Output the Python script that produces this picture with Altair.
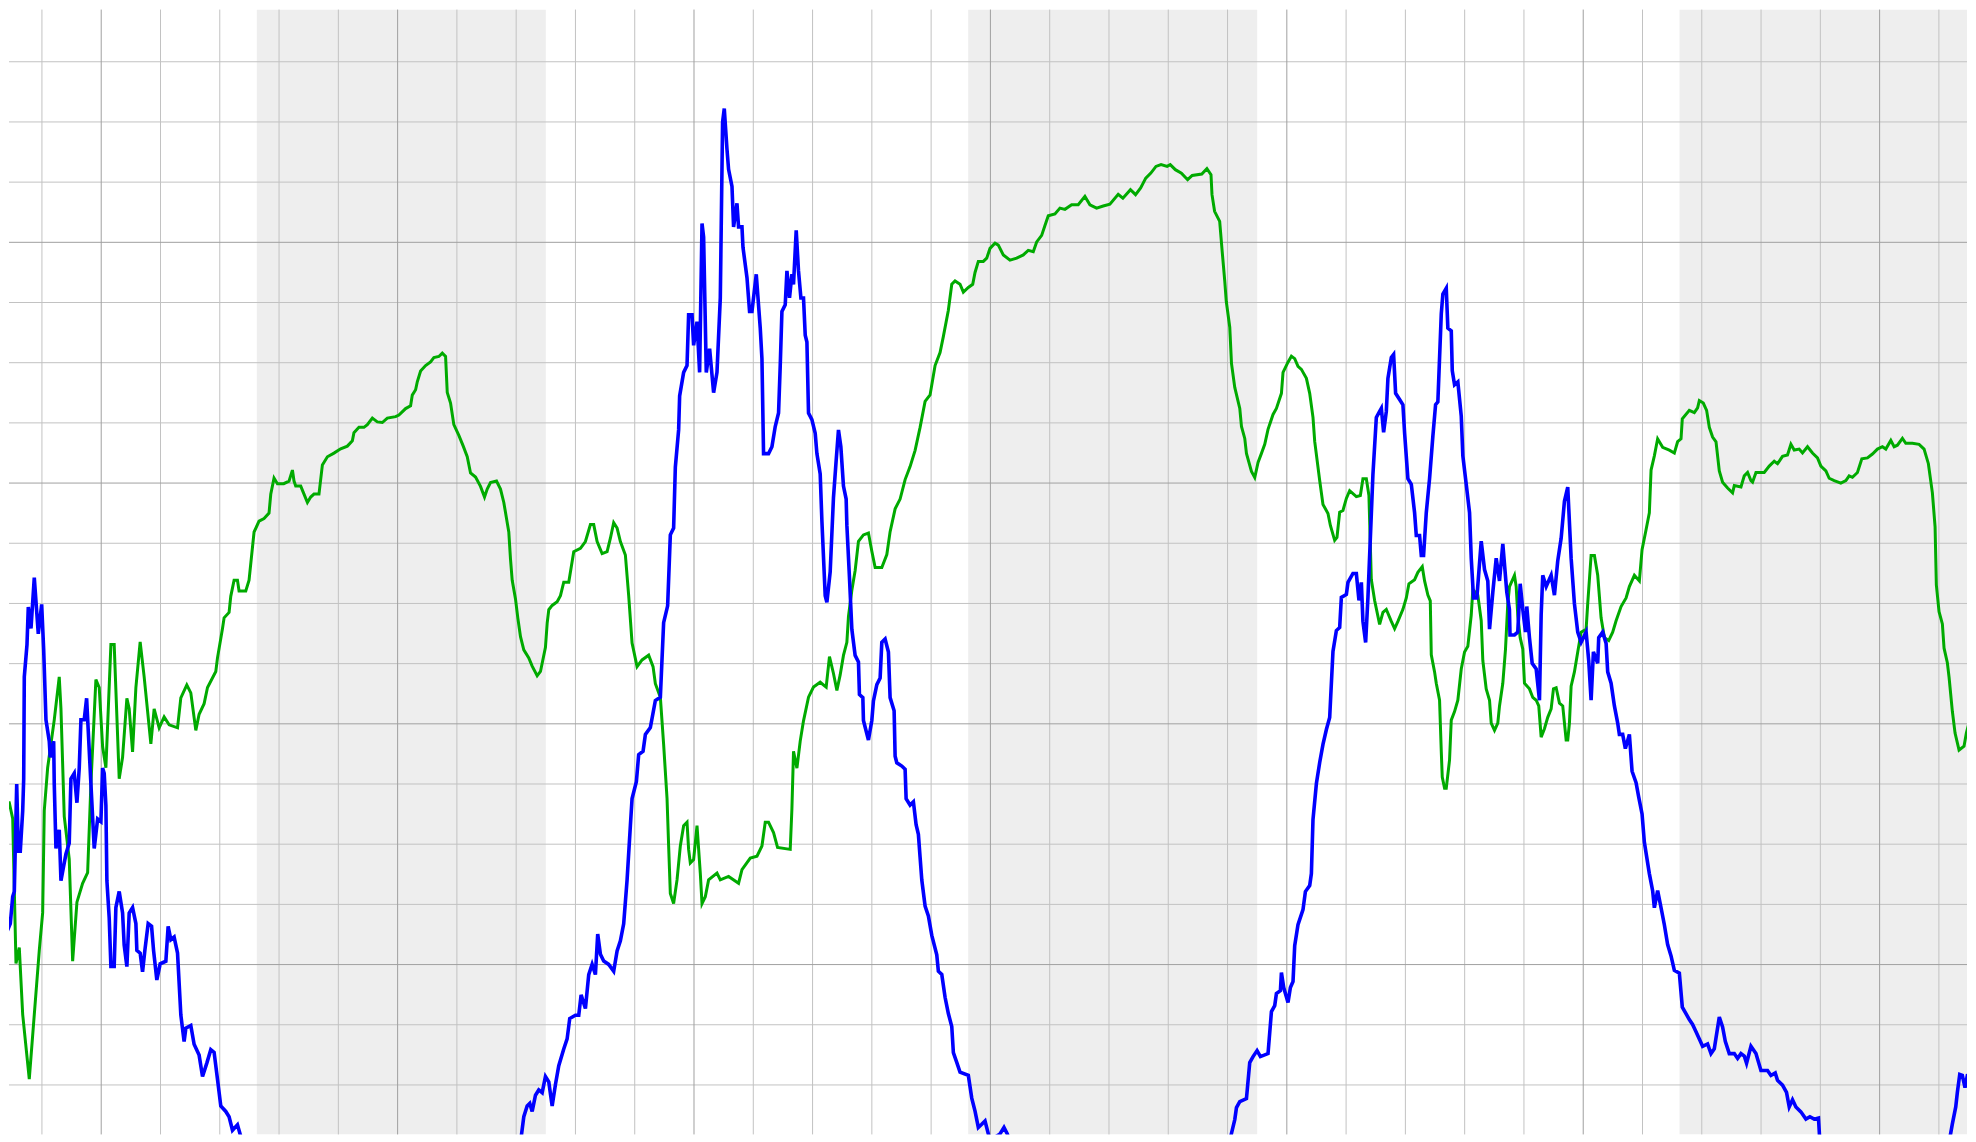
import altair as alt
import pandas as pd

# ---- data (hours, value) ----
GREEN_SERIES = [
(-3.323,3.061),(-3.246,2.689),(-3.101,2.689),(-2.986,2.423),(-2.875,0.017),(-2.764,0.282),(-2.649,-0.830),(-2.427,-1.904),
(-2.258,-0.830),(-2.090,0.232),(-1.975,0.863),(-1.921,2.556),(-1.807,3.270),(-1.584,4.066),(-1.416,4.780),(-1.358,4.249),
(-1.247,2.463),(-1.079,1.751),(-0.964,0.056),(-0.819,1.037),(-0.627,1.349),(-0.458,1.527),(-0.347,3.004),(-0.179,4.737),
(-0.067,4.603),(0.047,3.622),(0.158,3.270),(0.327,5.316),(0.438,5.316),(0.607,3.087),(0.721,3.444),(0.866,4.425),
(0.944,4.249),(1.058,3.535),(1.170,4.603),(1.314,5.361),(1.449,4.780),(1.675,3.668),(1.786,4.249),(1.955,3.934),
(2.123,4.116),(2.292,3.984),(2.575,3.934),(2.686,4.432),(2.888,4.647),(3.023,4.515),(3.192,3.891),(3.303,4.158),
(3.472,4.335),(3.586,4.603),(3.866,4.870),(3.923,5.096),(4.092,5.584),(4.146,5.761),(4.314,5.851),(4.371,6.118),
(4.483,6.385),(4.597,6.385),(4.651,6.208),(4.877,6.208),(4.988,6.385),(5.157,7.187),(5.325,7.369),(5.494,7.411),
(5.662,7.502),(5.720,7.813),(5.831,8.083),(5.945,7.990),(6.158,7.990),(6.336,8.033),(6.451,8.216),(6.505,8.033),
(6.562,7.950),(6.731,7.950),(6.842,7.817),(6.957,7.678),(7.068,7.768),(7.179,7.817),(7.347,7.817),(7.462,8.302),
(7.631,8.437),(7.853,8.498),(8.079,8.569),(8.305,8.614),(8.473,8.704),(8.527,8.837),(8.696,8.926),(8.864,8.926),
(8.979,8.971),(9.147,9.079),(9.316,9.016),(9.484,9.006),(9.653,9.079),(9.933,9.104),(10.044,9.130),(10.270,9.238),
(10.438,9.283),(10.495,9.461),(10.607,9.550),(10.664,9.683),(10.775,9.862),(10.944,9.952),(11.112,10.014),(11.223,10.085),
(11.392,10.103),(11.507,10.158),(11.618,10.103),(11.675,9.505),(11.786,9.328),(11.897,8.971),(12.066,8.792),(12.214,8.614),
(12.349,8.437),(12.460,8.168),(12.629,8.100),(12.797,7.945),(12.932,7.768),(13.023,7.900),(13.134,8.008),(13.337,8.033),
(13.471,7.900),(13.583,7.678),(13.751,7.187),(13.808,6.742),(13.866,6.385),(13.977,6.075),(14.055,5.761),(14.146,5.449),
(14.257,5.228),(14.425,5.096),(14.540,4.959),(14.708,4.798),(14.820,4.870),(14.988,5.271),(15.046,5.673),(15.100,5.896),
(15.214,5.967),(15.383,6.028),(15.494,6.130),(15.605,6.354),(15.774,6.354),(15.942,6.860),(16.168,6.916),(16.336,7.029),
(16.505,7.310),(16.616,7.310),(16.731,7.029),(16.899,6.827),(17.068,6.860),(17.179,7.084),(17.290,7.343),(17.405,7.253),
(17.516,7.029),(17.684,6.805),(17.796,6.130),(17.910,5.343),(18.079,4.950),(18.247,5.062),(18.470,5.140),(18.618,4.950),
(18.696,4.667),(18.864,4.443),(18.975,3.657),(19.090,2.757),(19.144,1.970),(19.201,1.183),(19.312,1.014),(19.427,1.407),
(19.538,1.970),(19.650,2.307),(19.764,2.364),(19.818,1.914),(19.875,1.688),(19.987,1.744),(20.101,2.307),(20.212,1.520),
(20.270,1.014),(20.381,1.127),(20.492,1.407),(20.775,1.520),(20.887,1.407),(21.166,1.464),(21.503,1.351),(21.618,1.577),
(21.898,1.768),(22.124,1.801),(22.292,1.970),(22.403,2.364),(22.515,2.364),(22.683,2.194),(22.818,1.947),(23.246,1.914),
(23.303,2.589),(23.357,3.544),(23.472,3.263),(23.583,3.713),(23.694,4.050),(23.863,4.443),(24.031,4.611),(24.257,4.691),
(24.459,4.611),(24.570,5.117),(24.705,4.837),(24.820,4.554),(24.931,4.813),(25.042,5.137),(25.157,5.354),(25.211,5.786),
(25.325,6.219),(25.436,6.545),(25.548,7.031),(25.716,7.139),(25.885,7.170),(25.999,6.868),(26.111,6.598),(26.336,6.598),
(26.505,6.813),(26.616,7.193),(26.785,7.572),(26.953,7.734),(27.122,8.058),(27.290,8.274),(27.459,8.544),(27.627,8.925),
(27.796,9.356),(27.964,9.464),(28.133,9.952),(28.301,10.168),(28.413,10.438),(28.581,10.871),(28.696,11.303),(28.807,11.358),
(28.975,11.303),(29.087,11.173),(29.255,11.250),(29.403,11.303),(29.481,11.499),(29.592,11.683),(29.761,11.683),(29.875,11.736),
(29.986,11.899),(30.155,11.985),(30.266,11.954),(30.435,11.791),(30.661,11.705),(30.886,11.736),(31.109,11.791),(31.277,11.867),
(31.446,11.844),(31.561,12.007),(31.729,12.115),(31.840,12.278),(31.952,12.440),(32.177,12.472),(32.346,12.569),(32.514,12.548),
(32.740,12.624),(32.963,12.624),(33.188,12.763),(33.357,12.624),(33.583,12.569),(33.805,12.603),(34.031,12.634),(34.311,12.797),
(34.469,12.732),(34.725,12.875),(34.897,12.792),(35.069,12.902),(35.241,13.067),(35.413,13.150),(35.585,13.261),(35.757,13.290),
(35.962,13.261),(36.067,13.290),(36.239,13.207),(36.444,13.150),(36.653,13.041),(36.808,13.112),(37.132,13.134),(37.304,13.223),
(37.442,13.124),(37.476,12.792),(37.563,12.515),(37.735,12.349),(37.819,11.851),(37.907,11.353),(37.957,11.021),(38.075,10.589),
(38.133,9.989),(38.244,9.590),(38.413,9.240),(38.470,8.941),(38.581,8.742),(38.638,8.493),(38.807,8.193),(38.918,8.093),
(39.029,8.344),(39.144,8.493),(39.255,8.643),(39.366,8.892),(39.535,9.140),(39.649,9.240),(39.818,9.491),(39.872,9.839),
(40.040,10.008),(40.155,10.108),(40.266,10.068),(40.377,9.939),(40.492,9.889),(40.661,9.740),(40.772,9.491),(40.883,9.091),
(40.941,8.692),(41.109,8.043),(41.220,7.645),(41.389,7.496),(41.470,7.296),(41.614,7.048),(41.692,7.097),(41.783,7.515),
(41.894,7.545),(42.009,7.745),(42.120,7.874),(42.346,7.774),(42.481,7.794),(42.568,8.073),(42.683,8.073),(42.770,7.794),
(42.851,6.399),(42.963,6.050),(43.131,5.652),(43.243,5.851),(43.357,5.901),(43.526,5.701),(43.637,5.580),(43.748,5.701),
(43.917,5.902),(44.031,6.091),(44.119,6.327),(44.311,6.394),(44.422,6.516),(44.570,6.611),(44.648,6.374),(44.759,6.138),
(44.840,6.043),(44.874,5.147),(44.985,4.863),(45.042,4.674),(45.153,4.392),(45.211,3.542),(45.244,3.117),(45.322,2.928),
(45.379,2.928),(45.490,3.399),(45.548,4.061),(45.659,4.203),(45.770,4.392),(45.885,4.911),(45.996,5.194),(46.107,5.288),
(46.222,5.808),(46.276,6.232),(46.444,6.138),(46.559,5.713),(46.613,5.052),(46.727,4.581),(46.839,4.392),(46.896,4.013),
(47.007,3.891),(47.118,4.013),(47.176,4.297),(47.287,4.674),(47.378,5.242),(47.455,5.997),(47.513,6.281),(47.681,6.468),
(47.738,6.281),(47.792,5.808),(47.873,5.431),(47.961,5.242),(48.018,4.674),(48.186,4.581),(48.298,4.438),(48.413,4.392),
(48.500,4.297),(48.581,3.778),(48.692,3.919),(48.803,4.108),(48.918,4.249),(48.996,4.581),(49.087,4.599),(49.198,4.344),
(49.309,4.297),(49.424,3.730),(49.478,3.730),(49.535,4.013),(49.592,4.627),(49.703,4.863),(49.815,5.194),(49.929,5.524),
(50.098,5.572),(50.152,5.997),(50.266,6.798),(50.378,6.798),(50.489,6.468),(50.603,5.761),(50.715,5.431),(50.859,5.383),
(50.994,5.524),(51.109,5.713),(51.277,5.949),(51.446,6.091),(51.557,6.281),(51.726,6.468),(51.894,6.374),(51.985,6.893),
(52.120,7.224),(52.231,7.507),(52.289,8.216),(52.400,8.452),(52.511,8.735),(52.680,8.593),(52.905,8.546),(53.074,8.498),
(53.185,8.687),(53.300,8.735),(53.343,9.066),(53.579,9.208),(53.748,9.169),(53.859,9.250),(53.917,9.371),(54.051,9.330),
(54.163,9.208),(54.254,8.926),(54.365,8.765),(54.480,8.686),(54.591,8.201),(54.702,8.015),(54.871,7.919),(55.039,7.838),
(55.097,7.959),(55.322,7.935),(55.433,8.120),(55.545,8.176),(55.659,8.040),(55.713,8.015),(55.828,8.176),(56.107,8.176),
(56.276,8.282),(56.444,8.362),(56.555,8.322),(56.724,8.443),(56.892,8.467),(57.007,8.644),(57.118,8.548),(57.287,8.565),
(57.398,8.500),(57.567,8.604),(57.735,8.500),(57.904,8.418),(58.018,8.282),(58.187,8.201),(58.298,8.080),(58.467,8.040),
(58.692,7.999),(58.861,8.040),(58.972,8.120),(59.083,8.096),(59.252,8.176),(59.400,8.402),(59.589,8.418),(59.757,8.483),
(59.926,8.565),(60.094,8.604),(60.209,8.565),(60.378,8.709),(60.489,8.604),(60.600,8.629),(60.769,8.742),(60.883,8.661),
(61.106,8.661),(61.332,8.644),(61.500,8.565),(61.645,8.322),(61.780,7.838),(61.871,7.273),(61.914,6.306),(62.005,5.862),
(62.117,5.660),(62.174,5.257),(62.285,5.014),(62.343,4.774),(62.454,4.208),(62.545,3.846),(62.680,3.564),(62.848,3.627),
(62.926,3.846),(63.074,4.128),(63.185,4.193),
]

BLUE_SERIES = [
(-3.323,1.527),(-3.269,1.394),(-3.212,1.349),(-3.178,0.548),(-3.067,0.681),(-2.986,1.129),(-2.932,1.215),(-2.851,2.998),
(-2.797,1.884),(-2.730,1.884),(-2.649,2.553),(-2.615,3.087),(-2.595,4.780),(-2.504,5.316),(-2.460,5.942),(-2.369,5.584),
(-2.258,6.430),(-2.123,5.494),(-2.009,5.985),(-1.941,5.228),(-1.864,4.068),(-1.753,3.711),(-1.719,3.444),(-1.604,3.711),
(-1.584,2.998),(-1.527,1.929),(-1.416,2.241),(-1.358,1.394),(-1.190,1.839),(-1.079,2.018),(-1.021,3.087),(-0.910,3.177),
(-0.819,2.689),(-0.741,3.266),(-0.684,4.068),(-0.573,4.068),(-0.492,4.425),(-0.438,3.891),(-0.347,2.998),(-0.236,1.929),
(-0.121,2.418),(-0.010,2.374),(0.047,3.266),(0.101,3.177),(0.158,2.642),(0.192,1.394),(0.270,0.770),(0.327,-0.033),
(0.438,-0.033),(0.495,0.948),(0.607,1.215),(0.721,0.858),(0.775,0.324),(0.866,-0.033),(0.944,0.858),(1.058,0.948),
(1.170,0.681),(1.203,0.236),(1.314,0.191),(1.395,-0.121),(1.473,0.236),(1.584,0.681),(1.699,0.636),(1.766,0.236),
(1.877,-0.256),(1.989,0.012),(2.181,0.056),(2.258,0.636),(2.349,0.413),(2.460,0.458),(2.575,0.191),(2.686,-0.835),
(2.797,-1.280),(2.855,-1.057),(3.023,-1.012),(3.134,-1.325),(3.303,-1.504),(3.418,-1.859),(3.563,-1.637),(3.697,-1.414),
(3.809,-1.459),(3.923,-1.904),(4.034,-2.350),(4.203,-2.440),(4.314,-2.528),(4.429,-2.752),(4.597,-2.662),(4.766,-2.954),
(5.045,-3.750),(13.808,-3.750),(14.146,-2.954),(14.257,-2.528),(14.371,-2.350),(14.459,-2.307),(14.540,-2.440),(14.651,-2.171),
(14.762,-2.083),(14.877,-2.128),(14.988,-1.859),(15.100,-1.949),(15.214,-2.350),(15.325,-1.992),(15.437,-1.681),(15.605,-1.403),
(15.719,-1.235),(15.807,-0.896),(15.999,-0.842),(16.111,-0.842),(16.191,-0.503),(16.336,-0.730),(16.448,-0.166),(16.562,0.003),
(16.673,-0.166),(16.751,0.508),(16.842,0.171),(16.953,0.058),(17.122,0.003),(17.290,-0.110),(17.405,0.227),(17.516,0.395),
(17.627,0.677),(17.742,1.407),(17.853,2.307),(17.910,2.757),(18.055,3.037),(18.133,3.487),(18.281,3.544),(18.359,3.824),
(18.527,3.937),(18.696,4.387),(18.864,4.443),(18.975,5.680),(19.110,5.960),(19.201,7.140),(19.312,7.253),(19.370,8.266),
(19.481,8.883),(19.515,9.446),(19.650,9.839),(19.764,9.952),(19.818,10.794),(19.933,10.794),(19.987,10.289),(20.101,10.682),
(20.189,9.839),(20.270,12.312),(20.324,12.087),(20.414,9.839),(20.526,10.233),(20.661,9.502),(20.775,9.839),(20.887,11.076),
(20.964,13.999),(21.021,14.223),(21.112,13.549),(21.166,13.212),(21.281,12.930),(21.335,12.256),(21.449,12.649),(21.503,12.256),
(21.618,12.256),(21.652,11.917),(21.787,11.413),(21.874,10.850),(21.955,10.850),(22.100,11.469),(22.235,10.570),(22.292,10.063),
(22.346,8.490),(22.515,8.490),(22.629,8.603),(22.740,8.940),(22.852,9.164),(22.909,9.952),(22.966,10.850),(23.077,10.963),
(23.135,11.525),(23.222,11.076),(23.303,11.469),(23.357,11.300),(23.448,12.200),(23.525,11.525),(23.606,11.076),(23.694,11.076),
(23.752,10.457),(23.809,10.344),(23.863,9.164),(23.977,9.053),(24.089,8.827),(24.146,8.490),(24.257,8.153),(24.315,7.366),
(24.426,6.130),(24.483,6.017),(24.594,6.523),(24.705,7.760),(24.796,8.377),(24.874,8.883),(24.954,8.603),(25.042,7.950),
(25.133,7.734),(25.157,7.301),(25.244,6.435),(25.325,5.570),(25.436,5.137),(25.548,5.029),(25.581,4.488),(25.696,4.435),
(25.716,4.055),(25.885,3.731),(25.999,4.055),(26.053,4.380),(26.168,4.651),(26.279,4.759),(26.336,5.354),(26.447,5.408),
(26.559,5.192),(26.616,4.435),(26.751,4.218),(26.785,3.461),(26.842,3.353),(27.011,3.298),(27.122,3.245),(27.156,2.757),
(27.290,2.649),(27.402,2.704),(27.493,2.325),(27.570,2.163),(27.627,1.784),(27.685,1.404),(27.796,0.973),(27.907,0.810),
(28.022,0.485),(28.190,0.161),(28.244,-0.110),(28.359,-0.164),(28.470,-0.543),(28.581,-0.813),(28.696,-1.029),(28.750,-1.462),
(28.864,-1.625),(28.975,-1.786),(29.255,-1.841),(29.370,-2.219),(29.481,-2.435),(29.592,-2.705),(29.707,-2.652),(29.818,-2.598),
(29.986,-2.921),(30.155,-2.868),(30.323,-2.813),(30.458,-2.705),(30.570,-2.813),(30.661,-2.954),(30.998,-3.750),(37.739,-3.750),
(38.075,-2.924),(38.244,-2.576),(38.301,-2.377),(38.413,-2.277),(38.638,-2.227),(38.749,-1.628),(38.861,-1.529),(38.996,-1.429),
(39.110,-1.529),(39.366,-1.479),(39.481,-0.782),(39.592,-0.681),(39.649,-0.481),(39.784,-0.432),(39.818,-0.133),(39.895,-0.382),
(40.040,-0.631),(40.121,-0.382),(40.209,-0.282),(40.266,0.315),(40.377,0.664),(40.546,0.913),(40.627,1.213),(40.772,1.313),
(40.829,1.512),(40.883,2.410),(40.998,3.008),(41.109,3.358),(41.220,3.657),(41.335,3.905),(41.446,4.105),(41.557,5.202),
(41.672,5.550),(41.783,5.600),(41.840,6.100),(42.009,6.149),(42.063,6.349),(42.231,6.498),(42.346,6.498),(42.434,6.050),
(42.515,6.349),(42.568,5.701),(42.659,5.351),(42.737,6.100),(42.905,8.143),(43.020,9.091),(43.131,9.190),(43.189,9.240),
(43.266,8.842),(43.357,9.190),(43.411,9.740),(43.526,10.088),(43.603,10.138),(43.671,9.491),(43.805,9.389),(43.917,9.302),
(43.974,8.830),(44.085,8.073),(44.200,7.980),(44.311,7.507),(44.368,7.129),(44.479,7.129),(44.537,6.798),(44.614,6.798),
(44.705,7.507),(44.816,8.073),(44.928,8.782),(45.019,9.302),(45.096,9.348),(45.211,10.812),(45.265,11.142),(45.379,11.237),
(45.433,10.576),(45.548,10.530),(45.582,9.867),(45.659,9.632),(45.770,9.680),(45.885,9.112),(45.939,8.452),(46.053,7.980),
(46.165,7.507),(46.222,6.752),(46.299,6.091),(46.411,6.091),(46.559,7.036),(46.670,6.563),(46.781,6.374),(46.839,5.572),
(46.950,6.186),(47.064,6.752),(47.176,6.374),(47.287,6.988),(47.422,6.186),(47.510,5.902),(47.530,5.477),(47.681,5.477),
(47.792,5.524),(47.873,6.327),(47.961,5.902),(48.052,5.524),(48.096,5.949),(48.186,5.431),(48.278,5.006),(48.413,4.911),
(48.524,4.392),(48.581,5.808),(48.635,6.468),(48.750,6.281),(48.918,6.468),(49.029,6.138),(49.140,6.706),(49.255,7.082),
(49.366,7.696),(49.478,7.932),(49.592,6.752),(49.703,5.997),(49.815,5.524),(49.929,5.354),(50.098,5.524),(50.185,5.052),
(50.266,4.392),(50.344,5.194),(50.489,5.006),(50.523,5.431),(50.657,5.524),(50.772,5.336),(50.826,4.863),(50.940,4.674),
(51.052,4.297),(51.163,4.013),(51.220,3.824),(51.331,3.824),(51.422,3.588),(51.557,3.824),(51.648,3.212),(51.783,3.022),
(51.871,2.787),(51.985,2.503),(52.063,2.030),(52.231,1.512),(52.342,1.228),(52.400,0.944),(52.511,1.228),(52.626,0.944),
(52.737,0.662),(52.848,0.332),(52.963,0.143),(53.074,-0.095),(53.243,-0.141),(53.343,-0.707),(53.579,-0.913),(53.690,-0.994),
(53.805,-1.115),(53.917,-1.237),(54.028,-1.358),(54.196,-1.318),(54.311,-1.479),(54.422,-1.398),(54.591,-0.873),(54.702,-1.036),
(54.793,-1.276),(54.928,-1.479),(55.097,-1.479),(55.208,-1.559),(55.322,-1.479),(55.433,-1.519),(55.511,-1.640),(55.659,-1.358),
(55.828,-1.479),(55.996,-1.761),(56.218,-1.761),(56.333,-1.842),(56.478,-1.801),(56.555,-1.922),(56.724,-2.003),(56.859,-2.125),
(56.950,-2.365),(57.061,-2.246),(57.176,-2.365),(57.344,-2.447),(57.513,-2.568),(57.648,-2.528),(57.792,-2.568),(57.937,-2.551),
(57.985,-2.954),(58.298,-3.750),(62.005,-3.750),(62.343,-2.954),(62.454,-2.647),(62.568,-2.365),(62.622,-2.125),(62.703,-1.826),
(62.790,-1.842),(62.881,-2.043),(62.959,-1.842),(63.074,-1.826),(63.151,-2.003),(63.219,-1.842),
]

# shaded periods (hours)
BAND_START = [5.25, 29.25, 53.25]
BAND_END = [15.0, 39.0, 63.0]

# grid ticks
X_MINOR = [h for h in range(-2, 64, 2) if h % 10 != 0]
X_MAJOR = [0, 10, 20, 30, 40, 50, 60]
Y_MINOR = [v for v in range(-2, 16) if v % 4 != 0]
Y_MAJOR = [0, 4, 8, 12]

X_DOMAIN = [-3.111, 62.948]
Y_DOMAIN = [-2.822, 15.867]

xs = alt.Scale(domain=X_DOMAIN, nice=False, zero=False)
ys = alt.Scale(domain=Y_DOMAIN, nice=False, zero=False)

green_df = pd.DataFrame(GREEN_SERIES, columns=["hour", "value"])
blue_df = pd.DataFrame(BLUE_SERIES, columns=["hour", "value"])
band_df = pd.DataFrame({"start": BAND_START, "end": BAND_END})

bands = alt.Chart(band_df).mark_rect(color="#eeeeee", clip=True).encode(
    x=alt.X("start:Q", scale=xs, axis=None),
    x2="end:Q",
)

def vrules(vals, color):
    return alt.Chart(pd.DataFrame({"hour": vals})).mark_rule(color=color, strokeWidth=1).encode(
        x=alt.X("hour:Q", scale=xs, axis=None)
    )

def hrules(vals, color):
    return alt.Chart(pd.DataFrame({"value": vals})).mark_rule(color=color, strokeWidth=1).encode(
        y=alt.Y("value:Q", scale=ys, axis=None)
    )

green_line = alt.Chart(green_df).mark_line(color="#00aa00", strokeWidth=3.0, clip=True).encode(
    x=alt.X("hour:Q", scale=xs, axis=None),
    y=alt.Y("value:Q", scale=ys, axis=None),
)
blue_line = alt.Chart(blue_df).mark_line(color="#0000ff", strokeWidth=3.6, clip=True).encode(
    x=alt.X("hour:Q", scale=xs, axis=None),
    y=alt.Y("value:Q", scale=ys, axis=None),
)

chart = alt.layer(
    bands,
    vrules(X_MINOR, "#c2c2c2"),
    hrules(Y_MINOR, "#c2c2c2"),
    vrules(X_MAJOR, "#a0a0a0"),
    hrules(Y_MAJOR, "#a0a0a0"),
    green_line,
    blue_line,
).properties(
    width=1960, height=1126, padding=0, background="#ffffff"
).configure_view(strokeWidth=0)

chart.save("out.html", embed_options={"renderer": "svg", "actions": False})
